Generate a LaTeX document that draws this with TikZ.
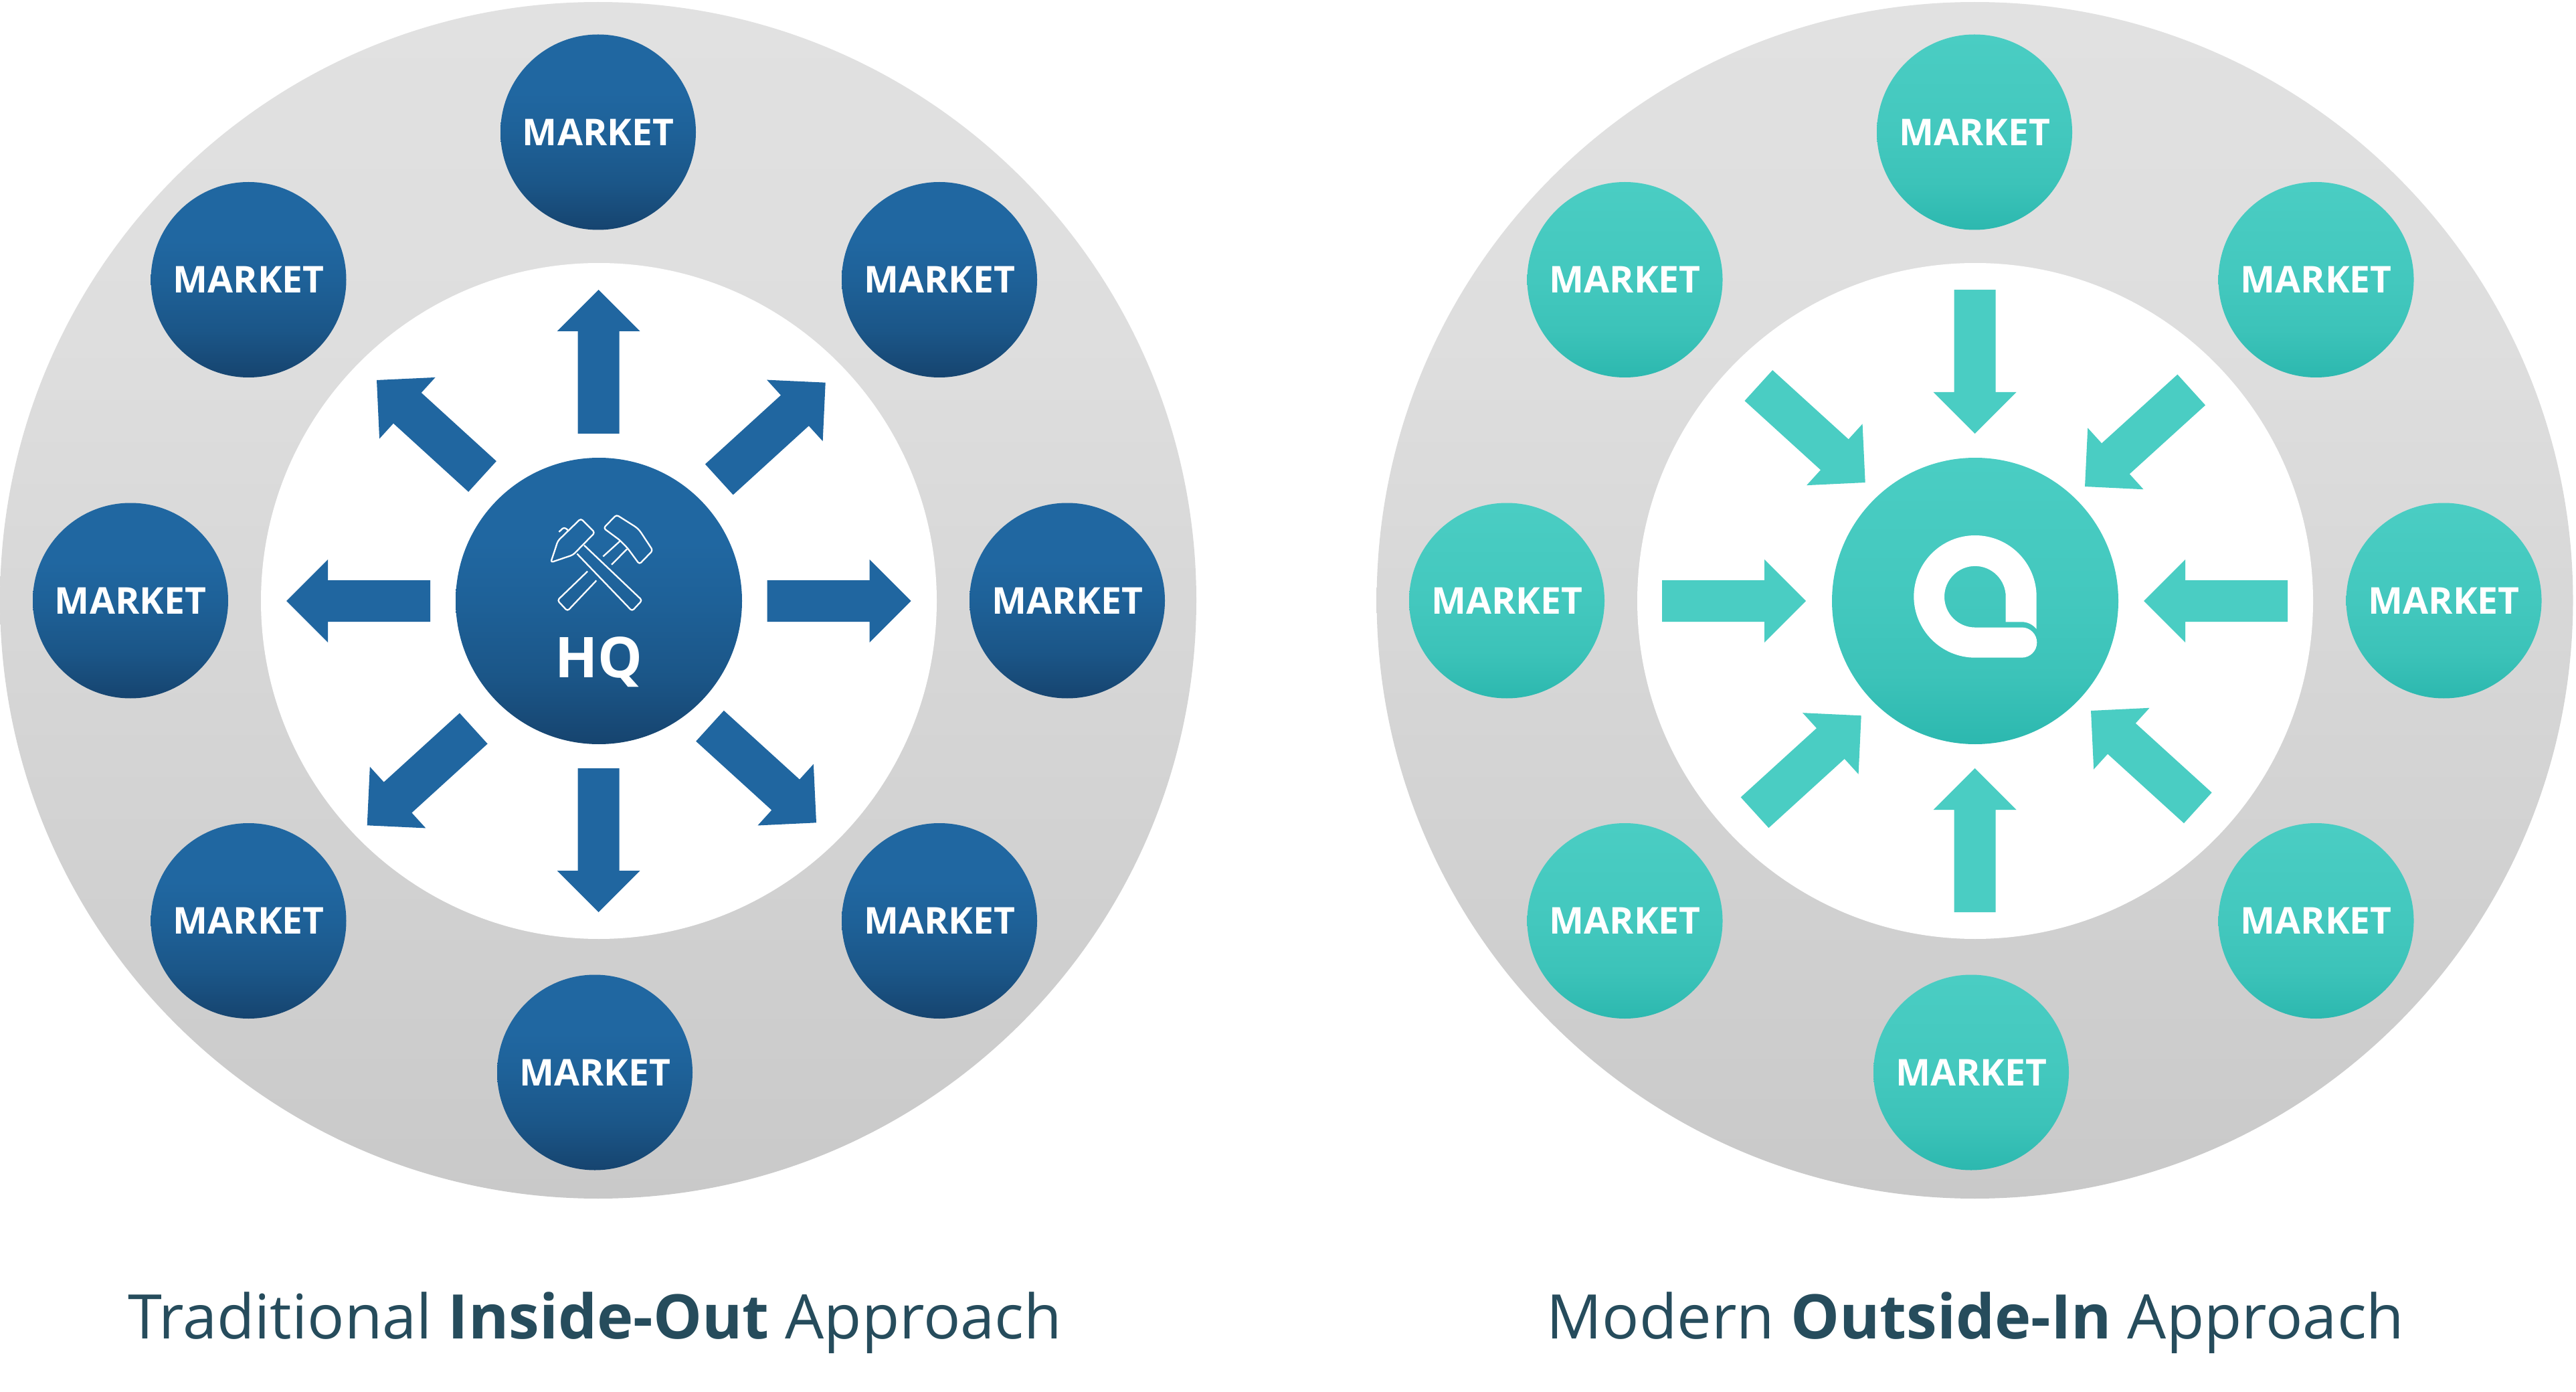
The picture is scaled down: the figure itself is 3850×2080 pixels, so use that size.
\documentclass[tikz,border=0pt]{standalone}
\usepackage{fontspec}
\setmainfont{Open Sans}
\usetikzlibrary{calc}

\definecolor{bluearrow}{HTML}{2066A0}
\definecolor{tealarrow}{HTML}{4ACDC3}
\definecolor{captionink}{HTML}{264C5C}
\definecolor{blueA}{HTML}{16446F}
\definecolor{blueB}{HTML}{1B5688}
\definecolor{blueC}{HTML}{1E6198}
\definecolor{blueD}{HTML}{2067A1}
\definecolor{tealA}{HTML}{2CB8AF}
\definecolor{tealB}{HTML}{3CC3B9}
\definecolor{tealC}{HTML}{43C8BE}
\definecolor{tealD}{HTML}{4ACDC3}
\definecolor{ringA}{HTML}{C9C9C9}
\definecolor{ringB}{HTML}{D2D2D2}
\definecolor{ringC}{HTML}{DEDEDE}
\definecolor{ringD}{HTML}{E1E1E1}

\pgfdeclareverticalshading{blueshade}{100bp}{color(0bp)=(blueA); color(25bp)=(blueA); color(37bp)=(blueB); color(50bp)=(blueC); color(60bp)=(blueD); color(100bp)=(blueD)}
\pgfdeclareverticalshading{tealshade}{100bp}{color(0bp)=(tealA); color(25bp)=(tealA); color(37bp)=(tealB); color(50bp)=(tealC); color(75bp)=(tealD); color(100bp)=(tealD)}
\pgfdeclareverticalshading{ringshade}{100bp}{color(0bp)=(ringA); color(25bp)=(ringA); color(40bp)=(ringB); color(61bp)=(ringC); color(75bp)=(ringD); color(100bp)=(ringD)}

% tail, tip, colour
\newcommand{\blockarrow}[3]{
    \coordinate (neck) at ($(#2)!6.2mm!(#1)$);
    \fill[#3] ($(#1)!3.1mm!90:(#2)$) -- ($(neck)!3.1mm!90:(#2)$) -- ($(neck)!6.2mm!90:(#2)$)
        -- (#2) -- ($(neck)!6.2mm!-90:(#2)$) -- ($(neck)!3.1mm!-90:(#2)$) -- ($(#1)!3.1mm!-90:(#2)$) -- cycle;
}

\begin{document}
\begin{tikzpicture}[
    x=0.1mm, y=-0.1mm, % one unit is one pixel of the sheet, y runs down
    disc/.style={circle, inner sep=0pt, text=white},
    ring/.style={disc, minimum size=178.8mm, shading=ringshade},
    hole/.style={disc, minimum size=101mm, fill=white},
    bluemarket/.style={disc, minimum size=29.2mm, shading=blueshade, font=\bfseries\fontsize{15.7pt}{18pt}\selectfont},
    tealmarket/.style={disc, minimum size=29.2mm, shading=tealshade, font=\bfseries\fontsize{15.7pt}{18pt}\selectfont},
    bluehub/.style={disc, minimum size=42.8mm, shading=blueshade},
    tealhub/.style={disc, minimum size=42.8mm, shading=tealshade},
    caption/.style={anchor=base, text=captionink, inner sep=0pt, font=\fontsize{26.15pt}{32pt}\selectfont},
    icon/.style={draw=white, line width=0.23mm, line join=round, rounded corners=0.35mm}
]
    \useasboundingbox (0,0) rectangle (3850,2080);

    % === Left wheel ===
    \node[ring] (ringL) at (894,897) {};
    \node[hole] (holeL) at (895,898) {};
    \foreach \x/\y [count=\i] in {894/197.5, 1404/418, 1595/897.5, 1404/1376, 889/1602.5, 371.5/1376, 195/897.5, 371.5/418}
        \node[bluemarket] (marketL\i) at (\x,\y) {MARKET};
    \node[bluehub] (hubL) at (895,898) {};

    % Arrows out of the hub (tail x/y, tip x/y)
    \foreach \tx/\ty/\hx/\hy in {
        894.7/648/894.7/433, 1074.8/716.5/1233.7/571.7, 1146.7/898/1361.7/898, 1061/1084.7/1220/1229.3,
        894.7/1148/894.7/1363, 707.8/1088.5/548.7/1233.3, 643/898/428/898, 721/712/563/568} {
        \coordinate (tail) at (\tx,\ty);
        \coordinate (tip) at (\hx,\hy);
        \blockarrow{tail}{tip}{bluearrow}
    }

    % Crossed hammers, traced at three times their size
    \begin{scope}[shift={(660,660)}, x=0.0333mm, y=-0.0333mm]
        \draw[icon] (625,345) -- (688,408) -- (590,508) -- (490,542) -- (522,445) -- cycle;
        \draw[icon] (527,405) -- (550,383) -- (567,397);
        \draw[icon] (640,465) -- (900,712) -- (855,760) -- (608,503);
        \draw[icon] (785,328) -- (875,385) -- (890,400) -- (948,488) -- (888,550) -- (835,478) -- (800,442) -- (727,388) -- cycle;
        \draw[icon] (800,447) -- (725,515);
        \draw[icon] (832,482) -- (763,552);
        \draw[icon] (655,582) -- (520,712) -- (565,760) -- (695,623);
    \end{scope}
    \node[anchor=base, inner sep=0pt, text=white, font=\bfseries\fontsize{23.9pt}{28pt}\selectfont] (hqlabel) at (895,1012) {HQ};

    % === Right wheel ===
    \node[ring] (ringR) at (2951.5,897) {};
    \node[hole] (holeR) at (2952,898) {};
    \foreach \x/\y [count=\i] in {2951/197.5, 3461.5/418, 3652.5/897.5, 3461.5/1376, 2946/1602.5, 2428.5/1376, 2252/897.5, 2428.5/418}
        \node[tealmarket] (marketR\i) at (\x,\y) {MARKET};
    \node[tealhub] (hubR) at (2952,898) {};

    % Arrows into the hub (tail x/y, tip x/y)
    \foreach \tx/\ty/\hx/\hy in {
        2951.5/433/2951.5/648, 3275.2/582.5/3116/727, 3419/898/3204/898, 3284.8/1207.2/3125/1062,
        2951.5/1363/2951.5/1148, 2622.5/1214.2/2781.7/1069.3, 2484/898/2699/898, 2628.3/576/2787.7/721} {
        \coordinate (tail) at (\tx,\ty);
        \coordinate (tip) at (\hx,\hy);
        \blockarrow{tail}{tip}{tealarrow}
    }

    % Logo in the hub
    \fill[white] (2860.3,891.7) arc (180:360:91.7) -- (3043.7,940)
        .. controls (3038,933) and (3030,929.3) .. (3021.7,929.3)
        -- (2997.7,929.3) -- (2997.7,891.7) arc (0:-180:45.85) arc (180:90:45.85)
        -- (3021.7,937.5) arc (-90:90:22.6) -- (2952,982.7) arc (90:180:91.7) -- cycle;

    % === Captions ===
    \node[caption] (captionL) at (889,2000) {Traditional \textbf{Inside-Out} Approach};
    \node[caption] (captionR) at (2952.5,2000) {Modern \textbf{Outside-In} Approach};

\end{tikzpicture}
\end{document}
